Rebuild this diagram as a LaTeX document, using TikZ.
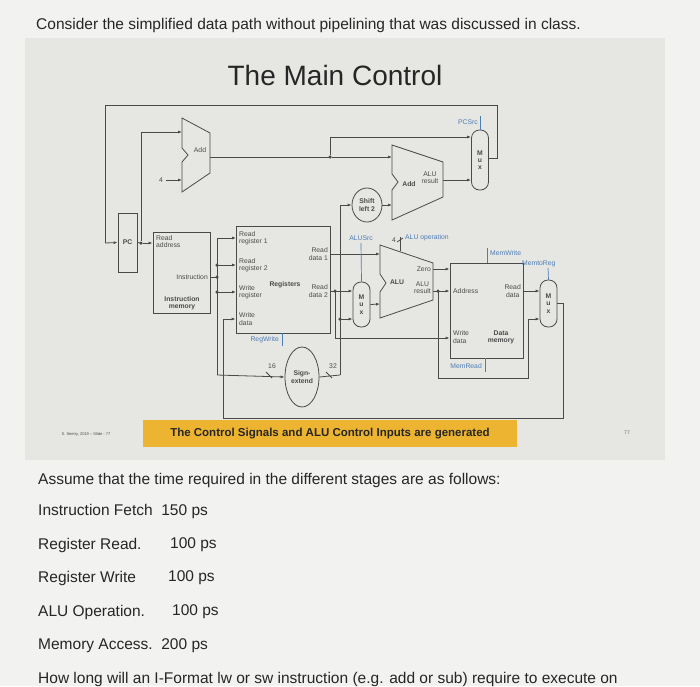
\documentclass[tikz,border=0pt]{standalone}
\usepackage{fontspec}
\setmainfont{Liberation Sans}
\usetikzlibrary{arrows.meta,shapes.geometric}
\definecolor{bg}{HTML}{F2F2F0}
\definecolor{slide}{HTML}{E6E6E3}
\definecolor{wire}{HTML}{4A4A4A}
\definecolor{ctl}{HTML}{4C7DB5}
\definecolor{band}{HTML}{EDB431}
\begin{document}
\begin{tikzpicture}[x=1pt,y=-1pt,
  w/.style={draw=wire,line width=0.8pt},
  a/.style={w,-{Latex[length=4pt,width=3pt]}},
  box/.style={draw=wire,line width=0.8pt,fill=slide},
  lbl/.style={font=\fontsize{6.8}{7.2}\selectfont,text=wire,inner sep=0pt,align=left},
  blbl/.style={font=\fontsize{6.8}{7.2}\selectfont\bfseries,text=wire,inner sep=0pt,align=center},
  cl/.style={font=\fontsize{6.8}{7.2}\selectfont,text=ctl,inner sep=0pt},
  cw/.style={draw=ctl,line width=0.7pt},
  dot/.style={circle,fill=wire,inner sep=0pt,minimum size=3.5pt},
  body/.style={font=\fontsize{15.5}{17}\selectfont,text=black!85,anchor=west,inner sep=0pt}]
\useasboundingbox (0,0) rectangle (700,686);
\fill[bg] (0,0) rectangle (700,686);
\fill[slide] (25,38) rectangle (665,460);
% top text
\node[body,anchor=base west] (top) at (36,29) {Consider the simplified data path without pipelining that was discussed in class.};
\node[font=\fontsize{28}{30}\selectfont,text=black!85] (title) at (335,75) {The Main Control};
% PC
\node[box,minimum width=19pt,minimum height=59pt,inner sep=0pt] (pc) at (127.5,242.5) {};
\node[blbl] at (pc) {PC};
% instruction memory
\node[box,minimum width=57pt,minimum height=81pt,inner sep=0pt] (im) at (181.5,272.5) {};
\node[lbl,anchor=north west] at (156,235) {Read\\address};
\node[lbl,anchor=east] (instr) at (208,277) {Instruction};
\node[blbl,anchor=south] at (182,310) {Instruction\\memory};
% registers
\node[box,minimum width=94pt,minimum height=107pt,inner sep=0pt] (reg) at (283,279.5) {};
\node[lbl,anchor=west] at (239,238) {Read\\register 1};
\node[lbl,anchor=west] at (239,265) {Read\\register 2};
\node[lbl,anchor=west] at (239,292) {Write\\register};
\node[lbl,anchor=west] at (239,319) {Write\\data};
\node[lbl,anchor=east,align=right] at (328,254) {Read\\data 1};
\node[lbl,anchor=east,align=right] at (328,291) {Read\\data 2};
\node[blbl] at (285,285) {Registers};
% sign extend & shift
\node[ellipse,box,minimum width=34pt,minimum height=60pt,inner sep=0pt] (se) at (302,377) {};
\node[blbl] at (se) {Sign-\\extend};
\node[ellipse,box,minimum width=30pt,minimum height=34pt,inner sep=0pt] (sl) at (367,205) {};
\node[blbl] at (sl) {Shift\\left 2};
% adders
\draw[box] (182,118) -- (210,133) -- (210,173) -- (182,192) -- (182,162) -- (188,155) -- (182,148) -- cycle;
\coordinate (add1) at (196,155);
\node[lbl] at (200,150) {Add};
\draw[box] (392,145) -- (443,162) -- (443,197) -- (392,220) -- (392,190) -- (398,182) -- (392,174) -- cycle;
\node[blbl] at (409,184) {Add};
\node[lbl,align=center] at (430,178) {ALU\\result};
% ALU
\draw[box] (380,245) -- (433,263) -- (433,300) -- (380,318) -- (380,292) -- (386,283) -- (380,274) -- cycle;
\node[blbl] at (397,282) {ALU};
\node[lbl,anchor=east] at (431,269) {Zero};
\node[lbl,anchor=east,align=center] at (431,288) {ALU\\result};
% data memory
\node[box,minimum width=73pt,minimum height=95pt,inner sep=0pt] (dm) at (486.5,310.5) {};
\node[lbl,anchor=west] at (453,291) {Address};
\node[lbl,anchor=east,align=center] at (521,291) {Read\\data};
\node[lbl,anchor=west] at (453,337) {Write\\data};
\node[blbl] at (501,337) {Data\\memory};
% muxes
\tikzset{mux/.style={box,rounded corners=8pt,minimum width=17pt,minimum height=#1,inner sep=0pt}}
\node[mux=60pt] (m1) at (480,160) {}; \node[blbl] at (m1) {M\\u\\x};
\node[mux=45pt] (m2) at (361.5,304.5) {}; \node[blbl] at (m2) {M\\u\\x};
\node[mux=47pt] (m3) at (548.5,303.5) {}; \node[blbl] at (m3) {M\\u\\x};
% wires
\draw[w] (m1.east |- 0,158) -- (497,158) -- (497,105) -- (105,105) -- (105,243);
\draw[a] (105,243) -- (pc.west);
\draw[w] (pc.east) -- (141,243);
\node[dot] (d1) at (141,243) {};
\draw[a] (d1) -- (im.west |- d1);
\draw[w] (d1) -- (141,132);
\draw[a] (141,132) -- (182,132);
\node[lbl] (four) at (161,180) {4};
\draw[a] (166,180) -- (182,180);
\draw[w] (210,157) -- (330,157);
\node[dot] (d2) at (330,157) {};
\draw[a] (d2) -- (392,157);
\draw[w] (d2) -- (330,137);
\draw[a] (330,137) -- (m1.west |- 0,137);
\draw[a] (443,180) -- (m1.west |- 0,180);
\draw[a] (sl.east) -- (392,205);
% instruction bus
\draw[w] (im.east |- instr) -- (217,277);
\draw[w] (217,238) -- (217,375);
\node[dot] at (217,277) {};
\node[dot] at (217,265) {};
\node[dot] at (217,292) {};
\draw[a] (217,238) -- (236,238);
\draw[a] (217,265) -- (236,265);
\draw[a] (217,292) -- (236,292);
\draw[a] (217,375) -- (se.west);
\draw[w] (266,372) -- (272,378); \node[lbl] at (272,366) {16};
\draw[w] (se.east) -- (340,375);
\draw[w] (326,372) -- (332,378); \node[lbl] at (333,366) {32};
\draw[w] (340,375) -- (340,205);
\draw[a] (340,205) -- (sl.west);
\node[dot] at (340,319) {};
\draw[a] (340,319) -- (m2.west |- 0,319);
\draw[a] (330,254) -- (380,254);
\draw[w] (330,291) -- (335,291);
\node[dot] at (335,291) {};
\draw[a] (335,291) -- (m2.west |- 0,291);
\draw[w] (335,291) -- (335,338);
\draw[a] (335,338) -- (dm.west |- 0,338);
\draw[a] (m2.east) -- (380,304);
\draw[a] (433,269) -- (dm.west |- 0,269);
\draw[w] (433,291) -- (438,291);
\node[dot] at (438,291) {};
\draw[a] (438,291) -- (dm.west |- 0,291);
\draw[w] (438,291) -- (438,378) -- (528,378) -- (528,319);
\draw[a] (528,319) -- (m3.west |- 0,319);
\draw[a] (dm.east |- 0,291) -- (m3.west |- 0,291);
\draw[w] (m3.east) -- (563,303.5) -- (563,418) -- (223,418) -- (223,319);
\draw[a] (223,319) -- (reg.west |- 0,319);
% control signals
\draw[cw] (m1.north) -- (480,116); \node[cl,anchor=east] at (478,122) {PCSrc};
\node[cl] at (361,238) {ALUSrc}; \draw[cw] (361,243) -- (m2.north);
\draw[w] (400,237) -- (400,251); \draw[w] (397,242) -- (403,238);
\node[lbl] at (394,240) {4};
\node[cl,anchor=west] at (405,238) {ALU operation};
\draw[cw] (487,263) -- (487,248); \node[cl,anchor=west] at (490,253) {MemWrite};
\node[cl,anchor=west] at (522,264) {MemtoReg}; \draw[cw] (m3.north) -- (548,268);
\draw[cw] (485,358) -- (485,372); \node[cl,anchor=east] at (482,366) {MemRead};
\draw[cw] (282,333) -- (282,346); \node[cl,anchor=east] at (279,340) {RegWrite};
% banner & footer
\node[fill=band,minimum width=374pt,minimum height=27pt,inner sep=0pt,font=\fontsize{11.5}{12}\selectfont\bfseries,text=black!85] (ban) at (330,433.5) {The Control Signals and ALU Control Inputs are generated};
\node[font=\fontsize{4}{4}\selectfont,text=black!70] (foot) at (86,434) {S. Seetry, 2019 -- Slide - 77};
\node[font=\fontsize{5}{5}\selectfont,text=black!60] (pg) at (627,433) {77};
% body text
\node[body] (l1) at (38,480) {Assume that the time required in the different stages are as follows:};
\node[body] (l2) at (38,511) {Instruction Fetch\ \ 150 ps};
\node[body] (l3) at (38,545) {Register Read.};
\node[body] at (170,545) {100 ps};
\node[body] (l4) at (38,578) {Register Write};
\node[body] at (168,578) {100 ps};
\node[body] (l5) at (38,612) {ALU Operation.};
\node[body] at (172,612) {100 ps};
\node[body] (l6) at (38,646) {Memory Access.\ \ 200 ps};
\node[body,anchor=north west] (l7) at (38,672) {How long will an I-Format lw or sw instruction (e.g. add or sub) require to execute on};
\end{tikzpicture}
\end{document}
